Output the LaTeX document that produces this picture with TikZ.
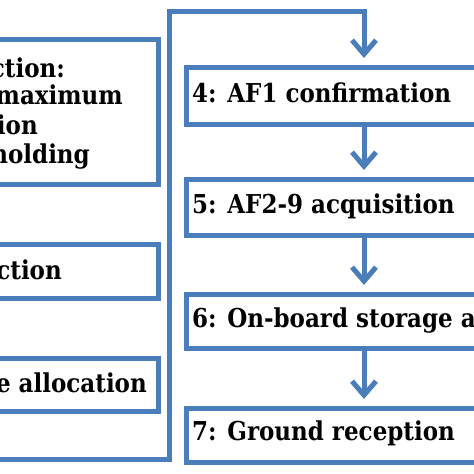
\documentclass[tikz,border=0pt]{standalone}
\usepackage{fontspec}
\setmainfont{DejaVu Serif}
\usetikzlibrary{arrows.meta,shadows}
\definecolor{frameblue}{HTML}{4A7EBB}
\newcommand{\tallbold}[1]{\scalebox{1}[1.13]{#1}}
\begin{document}
\begin{tikzpicture}[x=1pt,y=-1pt,
  box/.style={draw=frameblue, line width=5pt, fill=white, rectangle, inner sep=0pt,
    drop shadow={shadow xshift=1.5pt, shadow yshift=-2.5pt, opacity=0.25, fill=black}},
  lbl/.style={font=\fontsize{23}{27}\selectfont\bfseries, inner sep=0pt, text=black},
  conn/.style={draw=frameblue, line width=5pt, line join=miter},
  arr/.style={conn, -{Straight Barb[length=14pt,width=24pt]}, shorten >=7pt}]
\useasboundingbox (0,0) rectangle (474,474);
\clip (0,0) rectangle (474,474);
\fill[white] (0,0) rectangle (474,474);
% left boxes
\node[box, anchor=north west, minimum width=256pt, minimum height=145pt] (b1) at (-100,37) {};
\node[box, anchor=north west, minimum width=256pt, minimum height=54pt] (b2) at (-100,242) {};
\node[box, anchor=north west, minimum width=256pt, minimum height=53pt] (b3) at (-100,356) {};
% right boxes
\node[box, anchor=north west, minimum width=400pt, minimum height=57pt] (b4) at (184,65) {};
\node[box, anchor=north west, minimum width=400pt, minimum height=56pt] (b5) at (184,177) {};
\node[box, anchor=north west, minimum width=400pt, minimum height=54pt] (b6) at (184,292) {};
\node[box, anchor=north west, minimum width=400pt, minimum height=54pt] (b7) at (184,406) {};
% left texts
\node[lbl, anchor=base east] (t1a) at (65,77) {\tallbold{ction:}};
\node[lbl, anchor=base east] (t1b) at (123,104) {\tallbold{maximum}};
\node[lbl, anchor=base east] (t1c) at (38,134) {\tallbold{ion}};
\node[lbl, anchor=base east] (t1d) at (90,163) {\tallbold{holding}};
\node[lbl, anchor=base east] (t2) at (62,279) {\tallbold{ction}};
\node[lbl, anchor=base east] (t3) at (147,392) {\tallbold{e allocation}};
% right texts
\node[lbl, anchor=base west] (t4) at (192,102) {\tallbold{4: AF1 confirmation}};
\node[lbl, anchor=base west] (t5) at (192,213) {\tallbold{5: AF2-9 acquisition}};
\node[lbl, anchor=base west] (t6) at (192,327) {\tallbold{6: On-board storage and}};
\node[lbl, anchor=base west] (t7) at (192,440) {\tallbold{7: Ground reception}};
% frame connector
\coordinate (f0) at (-10,459);
\coordinate (f1) at (169,459);
\coordinate (f2) at (169,11);
\coordinate (f3) at (364,11);
\draw[arr] (f0) -- (f1) -- (f2) -- (f3) -- (b4.north -| f3);
\draw[arr] (b4.south -| f3) -- (b5.north -| f3);
\draw[arr] (b5.south -| f3) -- (b6.north -| f3);
\draw[arr] (b6.south -| f3) -- (b7.north -| f3);
\end{tikzpicture}
\end{document}
